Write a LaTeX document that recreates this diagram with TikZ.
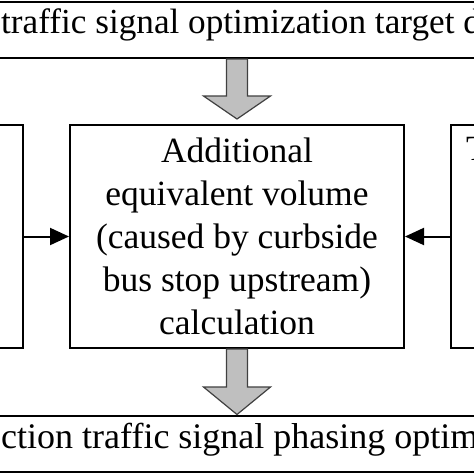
\documentclass[tikz,border=0pt]{standalone}
\usepackage{fontspec}
\setmainfont{Liberation Serif}[Ligatures=NoCommon]
\usetikzlibrary{arrows.meta}
\begin{document}
\begin{tikzpicture}[x=1pt,y=-1pt,
  boxstyle/.style={draw=black,line width=2pt,fill=white,inner sep=0pt},
  txt/.style={font=\fontsize{35.5}{43}\selectfont,inner sep=0pt},
  bandtxt/.style={font=\fontsize{36}{43}\selectfont,inner sep=0pt},
  toptxt/.style={font=\fontsize{35.2}{43}\selectfont,inner sep=0pt},
  blockarrow/.style={draw=black!75,line width=1.2pt,fill=black!25,line join=miter},
  conn/.style={line width=2pt,-{Triangle[length=19pt,width=17pt]}}]
\useasboundingbox (0,0) rectangle (474,474);
\clip (0,0) rectangle (474,474);
\fill[white] (0,0) rectangle (474,474);
% boxes
\node[boxstyle,minimum width=540pt,minimum height=56pt] (top) at (237,30) {};
\node[boxstyle,minimum width=540pt,minimum height=56pt] (bot) at (237,443.5) {};
\node[boxstyle,minimum width=334pt,minimum height=223pt] (mid) at (237,236.5) {};
\node[boxstyle,minimum width=80pt,minimum height=223pt,anchor=east] (left) at (24,236.5) {};
\node[boxstyle,minimum width=80pt,minimum height=223pt,anchor=west] (right) at (450,236.5) {};
% texts
\node[toptxt,anchor=base west] (toptext) at (1,33) {traffic signal optimization target d};
\node[bandtxt,anchor=base west] (bottext) at (1,448) {ction traffic signal phasing optim};
\node[txt,align=center] (midtext) at (mid.center) {Additional\\equivalent volume\\(caused by curbside\\bus stop upstream)\\calculation};
\node[txt,anchor=base west] (righttext) at (466,160) {T};
% block arrows
\draw[blockarrow] ([xshift=-10.5pt]top.south) -- ([xshift=-10.5pt,yshift=-37pt]top.south)
  -- ([xshift=-33.5pt,yshift=-37pt]top.south) -- ([yshift=5pt]mid.north)
  -- ([xshift=33.5pt,yshift=-37pt]top.south) -- ([xshift=10.5pt,yshift=-37pt]top.south)
  -- ([xshift=10.5pt]top.south) -- cycle;
\draw[blockarrow] ([xshift=-10.5pt]mid.south) -- ([xshift=-10.5pt,yshift=-38pt]mid.south)
  -- ([xshift=-33.5pt,yshift=-38pt]mid.south) -- (bot.north)
  -- ([xshift=33.5pt,yshift=-38pt]mid.south) -- ([xshift=10.5pt,yshift=-38pt]mid.south)
  -- ([xshift=10.5pt]mid.south) -- cycle;
% connectors
\draw[conn] (left.east) -- (mid.west);
\draw[conn] (right.west) -- (mid.east);
\end{tikzpicture}
\end{document}
